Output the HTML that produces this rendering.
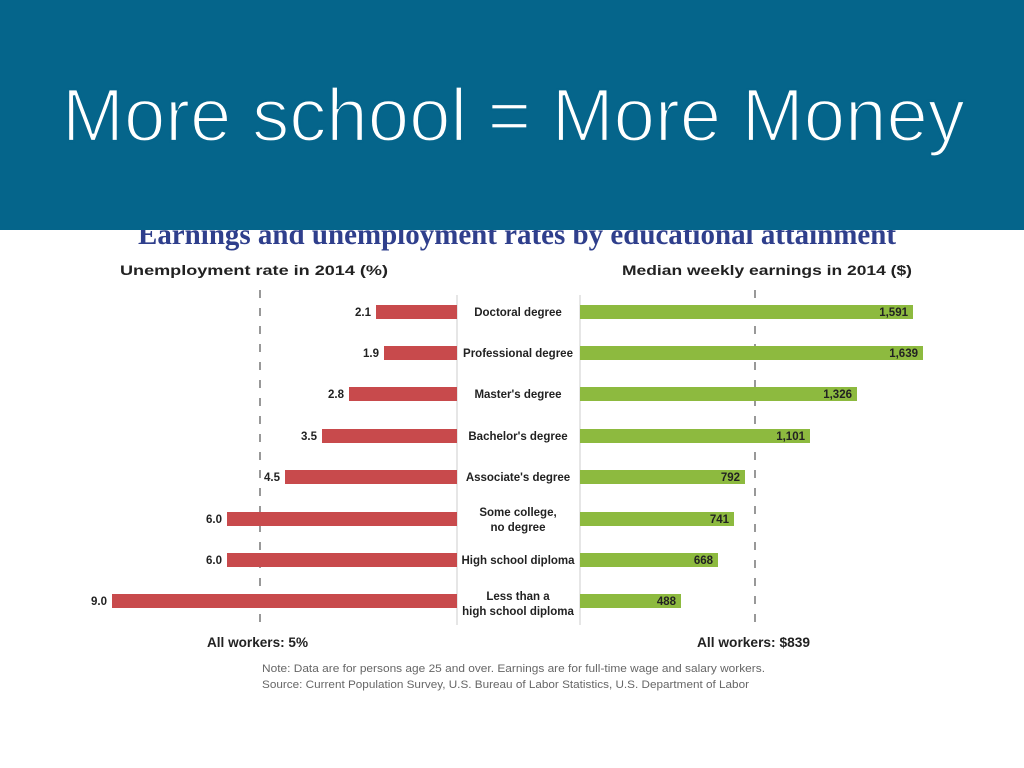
<!DOCTYPE html>
<html><head><meta charset="utf-8"><style>
html,body{margin:0;padding:0;background:#fff;}
svg{display:block;}
text{font-family:"Liberation Sans Narrow","Liberation Sans",sans-serif;}
</style></head><body>
<svg width="1024" height="768" viewBox="0 0 1024 768" xmlns="http://www.w3.org/2000/svg">
<rect width="1024" height="768" fill="#fff"/>
<text x="138" y="244" font-size="30" font-weight="bold" fill="#2f3f8c" textLength="758" lengthAdjust="spacingAndGlyphs" style="font-family:'Liberation Serif',serif">Earnings and unemployment rates by educational attainment</text>
<rect x="0" y="0" width="1024" height="230" fill="#05658b"/>
<text x="62" y="141" font-size="75" fill="#fff" stroke="#05658b" stroke-width="2.2" textLength="903" lengthAdjust="spacingAndGlyphs" style="font-family:'Liberation Sans',sans-serif">More school = More Money</text>

<g font-weight="bold" font-size="14" fill="#222">
<text x="120" y="275" textLength="268" lengthAdjust="spacingAndGlyphs">Unemployment rate in 2014 (%)</text>
<text x="622" y="275" textLength="290" lengthAdjust="spacingAndGlyphs">Median weekly earnings in 2014 ($)</text>
<text x="207" y="647" textLength="101" lengthAdjust="spacingAndGlyphs">All workers: 5%</text>
<text x="697" y="647" textLength="113" lengthAdjust="spacingAndGlyphs">All workers: $839</text>
</g>
<g font-size="11" fill="#666">
<text x="262" y="672" textLength="503" lengthAdjust="spacingAndGlyphs">Note: Data are for persons age 25 and over. Earnings are for full-time wage and salary workers.</text>
<text x="262" y="688" textLength="487" lengthAdjust="spacingAndGlyphs">Source: Current Population Survey, U.S. Bureau of Labor Statistics, U.S. Department of Labor</text>
</g>

<line x1="457" y1="295" x2="457" y2="625" stroke="#ccc" stroke-width="1"/>
<line x1="580" y1="295" x2="580" y2="625" stroke="#ccc" stroke-width="1"/>
<line x1="260" y1="290" x2="260" y2="625" stroke="#555" stroke-width="1.2" stroke-dasharray="8,10"/>
<line x1="755" y1="290" x2="755" y2="625" stroke="#555" stroke-width="1.2" stroke-dasharray="8,10"/>

<g fill="#c84a4c">
<rect x="376" y="305" width="81" height="14"/>
<rect x="384" y="346" width="73" height="14"/>
<rect x="349" y="387" width="108" height="14"/>
<rect x="322" y="429" width="135" height="14"/>
<rect x="285" y="470" width="172" height="14"/>
<rect x="227" y="512" width="230" height="14"/>
<rect x="227" y="553" width="230" height="14"/>
<rect x="112" y="594" width="345" height="14"/>
</g>
<g fill="#8dba3f">
<rect x="580" y="305" width="333" height="14"/>
<rect x="580" y="346" width="343" height="14"/>
<rect x="580" y="387" width="277" height="14"/>
<rect x="580" y="429" width="230" height="14"/>
<rect x="580" y="470" width="165" height="14"/>
<rect x="580" y="512" width="154" height="14"/>
<rect x="580" y="553" width="138" height="14"/>
<rect x="580" y="594" width="101" height="14"/>
</g>
<g font-size="11.5" font-weight="bold" fill="#222" text-anchor="end">
<text x="371" y="316">2.1</text>
<text x="379" y="357">1.9</text>
<text x="344" y="398">2.8</text>
<text x="317" y="440">3.5</text>
<text x="280" y="481">4.5</text>
<text x="222" y="523">6.0</text>
<text x="222" y="564">6.0</text>
<text x="107" y="605">9.0</text>
<text x="908" y="316">1,591</text>
<text x="918" y="357">1,639</text>
<text x="852" y="398">1,326</text>
<text x="805" y="440">1,101</text>
<text x="740" y="481">792</text>
<text x="729" y="523">741</text>
<text x="713" y="564">668</text>
<text x="676" y="605">488</text>
</g>
<g font-size="11.5" font-weight="bold" fill="#222" text-anchor="middle">
<text x="518" y="316">Doctoral degree</text>
<text x="518" y="357">Professional degree</text>
<text x="518" y="398">Master's degree</text>
<text x="518" y="440">Bachelor's degree</text>
<text x="518" y="481">Associate's degree</text>
<text x="518" y="516">Some college,</text>
<text x="518" y="531">no degree</text>
<text x="518" y="564">High school diploma</text>
<text x="518" y="600">Less than a</text>
<text x="518" y="615">high school diploma</text>
</g>
</svg>
</body></html>
